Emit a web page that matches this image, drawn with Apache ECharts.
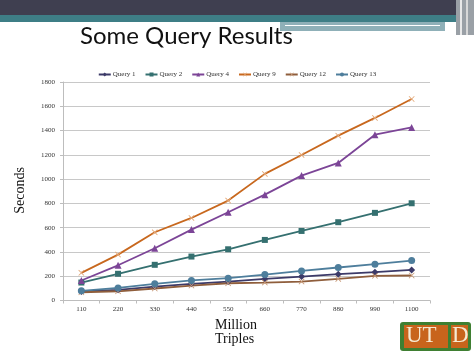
<!DOCTYPE html>
<html>
<head>
<meta charset="utf-8">
<script src="https://cdn.jsdelivr.net/npm/echarts@6/dist/echarts.min.js"></script>
<style>
html,body{margin:0;padding:0;background:#fff;}
#c{width:474px;height:355px;}
</style>
</head>
<body>
<div id="c"></div>
<script>
const categories = ['110','220','330','440','550','660','770','880','990','1100'];
const query1  = [74, 88, 115, 137, 156, 178, 197, 217, 233, 252];
const query2  = [148, 220, 294, 362, 422, 499, 573, 645, 722, 801];
const query4  = [165, 290, 430, 584, 727, 872, 1029, 1133, 1366, 1426];
const query9  = [228, 378, 562, 680, 823, 1043, 1199, 1358, 1504, 1660];
const query12 = [68, 76, 99, 123, 142, 148, 156, 178, 203, 206];
const query13 = [80, 104, 137, 165, 184, 214, 244, 272, 299, 329];
const seriesNames = ['Query 1','Query 2','Query 4','Query 9','Query 12','Query 13'];
const yTicks = {min: 0, max: 1800, interval: 200};

const serif = '"Liberation Serif", "DejaVu Serif", serif';
const xPath = 'path://M0,1L1,0L5,4L9,0L10,1L6,5L10,9L9,10L5,6L1,10L0,9L4,5Z';

const chart = echarts.init(document.getElementById('c'), null, {renderer:'canvas'});

function mk(name, data, color, symbol, size, symColor) {
  return {
    name: name, type: 'line', data: data,
    symbol: symbol, symbolSize: size,
    lineStyle: {color: color, width: 1.8},
    itemStyle: {color: symColor || color},
    emphasis: {disabled: true},
    animation: false
  };
}

chart.setOption({
  backgroundColor: '#ffffff',
  animation: false,
  graphic: [
    {type:'rect', shape:{x:0,y:0,width:474,height:15}, style:{fill:'#3f3f50'}, silent:true},
    {type:'rect', shape:{x:0,y:15,width:474,height:7}, style:{fill:'#3e7e86'}, silent:true},
    {type:'rect', shape:{x:280,y:22,width:165,height:9}, style:{fill:'#8fb0b8'}, silent:true},
    {type:'rect', shape:{x:285,y:25,width:155,height:1}, style:{fill:'#ffffff'}, silent:true},
    {type:'rect', shape:{x:456,y:0,width:18,height:35}, style:{fill:'#9aa0a6'}, silent:true},
    {type:'rect', shape:{x:460,y:0,width:2,height:35}, style:{fill:'#e8e8e8'}, silent:true},
    {type:'rect', shape:{x:466,y:0,width:2,height:35}, style:{fill:'#d8d8d8'}, silent:true},
    {type:'text', left:80, top:24, style:{text:'Some Query Results', font:'24px Lato, "Open Sans", sans-serif', fill:'#111111'}, silent:true},
    {type:'text', left:13, top:167, rotation:Math.PI/2, style:{text:'Seconds', font:'14px "Liberation Serif", serif', fill:'#111'}, silent:true, originX:0, originY:0},
    {type:'text', left:215, top:318, style:{text:'Million\nTriples', font:'14px "Liberation Serif", serif', fill:'#111', align:'center', lineHeight:14}, silent:true},
    {type:'rect', shape:{x:400,y:322,width:71,height:29,r:3}, style:{fill:'#3f7f32'}, silent:true},
    {type:'rect', shape:{x:404,y:325,width:44,height:23}, style:{fill:'#c8641c'}, silent:true},
    {type:'rect', shape:{x:451,y:325,width:17,height:23}, style:{fill:'#c8641c'}, silent:true},
    {type:'text', left:406, top:324, style:{text:'UT', font:'23px "Liberation Serif", serif', fill:'#f6ead2'}, silent:true},
    {type:'text', left:452, top:324, style:{text:'D', font:'23px "Liberation Serif", serif', fill:'#f6ead2'}, silent:true}
  ],
  legend: {
    data: seriesNames,
    top: 66, left: 'center',
    itemWidth: 12, itemHeight: 5, itemGap: 9,
    textStyle: {fontFamily: serif, fontSize: 7, color: '#333', padding:[0,0,0,-3]}
  },
  grid: {left: 63, top: 82, right: 44, bottom: 54.5, containLabel: false},
  xAxis: {
    type: 'category', data: categories, boundaryGap: true,
    axisLine: {lineStyle: {color: '#bdbdbd', width: 1}},
    axisTick: {show: true, alignWithLabel: false, length: 3, lineStyle:{color:'#bdbdbd'}},
    axisLabel: {fontFamily: serif, fontSize: 7, color: '#333', margin: 5}
  },
  yAxis: {
    type: 'value', min: yTicks.min, max: yTicks.max, interval: yTicks.interval,
    axisLine: {show: true, lineStyle: {color: '#bdbdbd'}},
    axisTick: {show: true, length: 3, lineStyle:{color:'#bdbdbd'}},
    splitLine: {lineStyle: {color: '#c8c8c8', width: 1}},
    axisLabel: {fontFamily: serif, fontSize: 7, color: '#333', margin: 8, formatter: function(v){ return String(v); }}
  },
  series: [
    mk('Query 1', query1, '#3c3a68', 'diamond', 7),
    mk('Query 2', query2, '#357070', 'rect', 6),
    mk('Query 4', query4, '#7c4597', 'triangle', 7),
    mk('Query 9', query9, '#c8681e', xPath, 6, '#e3a878'),
    mk('Query 12', query12, '#8f5e3c', xPath, 6, '#c89a78'),
    mk('Query 13', query13, '#4e7e9c', 'circle', 7)
  ]
});
</script>
</body>
</html>
